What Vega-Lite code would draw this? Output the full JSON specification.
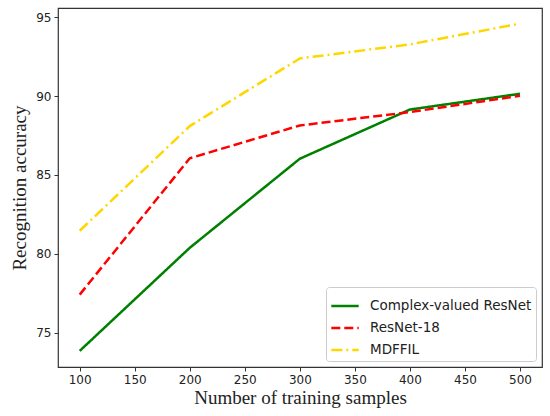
{
  "$schema": "https://vega.github.io/schema/vega-lite/v6.json",
  "autosize": "none",
  "width": 484,
  "height": 359,
  "padding": {"left": 58, "top": 8, "right": 8, "bottom": 49},
  "background": "white",
  "config": {
    "view": {"stroke": "#333333", "strokeWidth": 1.2},
    "axis": {
      "grid": false,
      "domain": false,
      "tickColor": "#333333",
      "tickSize": 4,
      "labelFont": "DejaVu Sans",
      "labelFontSize": 12,
      "labelColor": "#222222",
      "titleFont": "Liberation Serif",
      "titleFontSize": 19,
      "titleFontWeight": "normal",
      "titleColor": "#222222"
    },
    "legend": {
      "orient": "bottom-right",
      "offset": 6,
      "fillColor": "white",
      "strokeColor": "#cccccc",
      "cornerRadius": 3,
      "padding": 4,
      "rowPadding": -3,
      "labelFont": "DejaVu Sans",
      "labelFontSize": 13.5,
      "labelColor": "#222222",
      "labelLimit": 400,
      "symbolType": "stroke",
      "symbolSize": 750,
      "symbolStrokeWidth": 2.5,
      "labelOffset": 10
    }
  },
  "data": {
    "values": [
      {"samples": 100, "accuracy": 73.84, "model": "Complex-valued ResNet"},
      {"samples": 200, "accuracy": 80.38, "model": "Complex-valued ResNet"},
      {"samples": 300, "accuracy": 86.03, "model": "Complex-valued ResNet"},
      {"samples": 400, "accuracy": 89.15, "model": "Complex-valued ResNet"},
      {"samples": 500, "accuracy": 90.15, "model": "Complex-valued ResNet"},
      {"samples": 100, "accuracy": 77.41, "model": "ResNet-18"},
      {"samples": 200, "accuracy": 86.06, "model": "ResNet-18"},
      {"samples": 300, "accuracy": 88.14, "model": "ResNet-18"},
      {"samples": 400, "accuracy": 88.99, "model": "ResNet-18"},
      {"samples": 500, "accuracy": 90.02, "model": "ResNet-18"},
      {"samples": 100, "accuracy": 81.46, "model": "MDFFIL"},
      {"samples": 200, "accuracy": 88.1, "model": "MDFFIL"},
      {"samples": 300, "accuracy": 92.39, "model": "MDFFIL"},
      {"samples": 400, "accuracy": 93.28, "model": "MDFFIL"},
      {"samples": 500, "accuracy": 94.6, "model": "MDFFIL"}
    ]
  },
  "mark": {"type": "line", "strokeWidth": 2.5},
  "encoding": {
    "x": {
      "field": "samples",
      "type": "quantitative",
      "title": "Number of training samples",
      "scale": {"domain": [80.3, 520], "nice": false, "zero": false},
      "axis": {"values": [100, 150, 200, 250, 300, 350, 400, 450, 500], "labelPadding": 3, "titlePadding": 3}
    },
    "y": {
      "field": "accuracy",
      "type": "quantitative",
      "title": "Recognition accuracy",
      "scale": {"domain": [72.82, 95.59], "nice": false, "zero": false},
      "axis": {"values": [75, 80, 85, 90, 95], "labelPadding": 3, "titlePadding": 6}
    },
    "color": {
      "field": "model",
      "type": "nominal",
      "title": null,
      "sort": ["Complex-valued ResNet", "ResNet-18", "MDFFIL"],
      "scale": {
        "domain": ["Complex-valued ResNet", "ResNet-18", "MDFFIL"],
        "range": ["#008000", "#ff0000", "#ffd700"]
      }
    },
    "strokeDash": {
      "field": "model",
      "type": "nominal",
      "title": null,
      "sort": ["Complex-valued ResNet", "ResNet-18", "MDFFIL"],
      "scale": {
        "domain": ["Complex-valued ResNet", "ResNet-18", "MDFFIL"],
        "range": [[1, 0], [9, 4], [11, 4, 2, 4]]
      }
    }
  }
}
